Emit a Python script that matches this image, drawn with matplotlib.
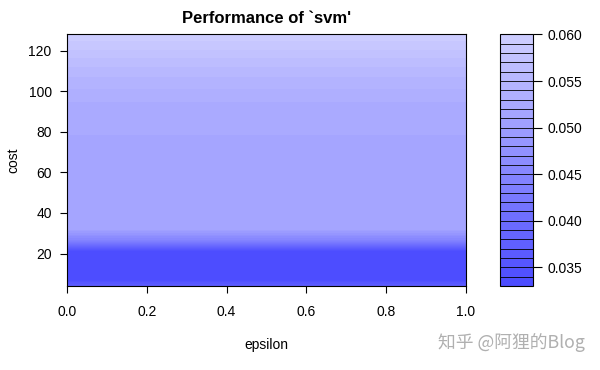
import numpy as np
import matplotlib
matplotlib.use("Agg")
import matplotlib.pyplot as plt
from matplotlib.colors import hsv_to_rgb

plt.rcParams['font.family'] = ['Liberation Sans', 'DejaVu Sans']

# tune.svm result: error is flat across epsilon, changes with cost
epsilon = [0.0, 0.1, 0.2, 0.3, 0.4, 0.5, 0.6, 0.7, 0.8, 0.9, 1.0]
cost = [4, 7, 21, 26, 32, 90, 110, 128]
error = [0.0372, 0.0336, 0.0338, 0.0440, 0.0512, 0.0522, 0.0555, 0.0598]

levels = np.round(np.arange(0.033, 0.0605, 0.001), 3)
n = len(levels) - 1
# e1071 hsv_palette(h=2/3, from=0.7, to=0.2, v=1)
cols = [hsv_to_rgb((2/3, s, 1.0)) for s in np.linspace(0.7, 0.2, n)]

Z = np.tile(np.array(error)[:, None], (1, len(epsilon)))

fig = plt.figure(figsize=(6, 3.7), dpi=100)
ax = fig.add_axes([0.1117, 0.227, 0.665, 0.680])
cf = ax.contourf(epsilon, cost, Z, levels=levels, colors=cols)
ax.set_xlim(0, 1)
ax.set_ylim(4, 128)
ax.set_xticks([0.0, 0.2, 0.4, 0.6, 0.8, 1.0])
ax.set_xticklabels(["0.0", "0.2", "0.4", "0.6", "0.8", "1.0"])
ax.set_yticks([20, 40, 60, 80, 100, 120])
ax.tick_params(axis='x', length=5, width=0.8, pad=9, labelsize=10)
ax.tick_params(axis='y', length=5, width=0.8, pad=6, labelsize=10)
for sp in ax.spines.values():
    sp.set_linewidth(0.8)
ax.set_title("Performance of `svm'", fontsize=12, fontweight='bold', pad=8)

fig.text(0.022, 0.567, "cost", rotation=90, ha='center', va='center', fontsize=10)
fig.text(0.444, 0.068, "epsilon", ha='center', va='center', fontsize=10)

cax = fig.add_axes([0.8325, 0.227, 0.055, 0.680])
cb = fig.colorbar(cf, cax=cax, drawedges=True)
cb.dividers.set_color('black')
cb.dividers.set_linewidth(0.6)
cb.outline.set_linewidth(0.8)
cb.set_ticks([0.035, 0.040, 0.045, 0.050, 0.055, 0.060])
cb.set_ticklabels(["0.035", "0.040", "0.045", "0.050", "0.055", "0.060"])
cax.tick_params(length=6.5, width=0.8, pad=4, labelsize=10)

fig.text(0.730, 0.073, "知乎 @阿狸的Blog", fontsize=12.8, color='#b0b0b0',
         ha='left', va='center', family=['Noto Sans CJK SC', 'DejaVu Sans'])

fig.savefig("out.png", dpi=100)
